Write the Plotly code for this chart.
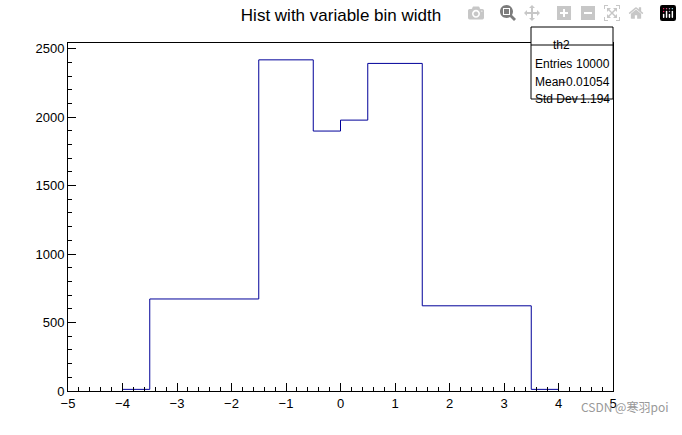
import plotly.graph_objects as go

edges = [-4, -3.5, -1.5, -0.5, 0, 0.5, 1.5, 3.5, 4]
counts = [12, 672, 2418, 1898, 1978, 2392, 622, 12]
stats_labels = ["Entries", "Mean", "Std Dev"]
stats_values = ["10000", "\u22120.01054", "1.194"]

xs, ys = [edges[0]], [0]
for i, c in enumerate(counts):
    xs += [edges[i], edges[i+1]]
    ys += [c, c]
xs.append(edges[-1]); ys.append(0)

fig = go.Figure(go.Scatter(x=xs, y=ys, mode="lines", line=dict(color="#000099", width=1), hoverinfo="skip"))
ax = dict(showgrid=False, zeroline=False, showline=True, mirror=True, linecolor="black", linewidth=1,
          ticks="inside", ticklen=8, tickcolor="black", tickfont=dict(family="Liberation Sans", size=13, color="black"))
fig.update_xaxes(range=[-5, 5], dtick=1, minor=dict(ticks="inside", ticklen=4, dtick=0.2, tickcolor="black"), **ax)
fig.update_yaxes(range=[0, 2541], dtick=500, minor=dict(ticks="inside", ticklen=4, dtick=100, tickcolor="black"), **ax)
fig.update_layout(width=682, height=435, margin=dict(l=68, r=69, t=43, b=44), plot_bgcolor="white", paper_bgcolor="white",
                  showlegend=False,
                  title=dict(text="Hist with variable bin width", x=0.5, xanchor="center", y=0.965, yanchor="middle",
                             font=dict(family="Liberation Sans", size=17, color="black")))
px = lambda p: (p-68)/545
py = lambda p: (391-p)/348
fig.add_shape(type="rect", xref="paper", yref="paper", x0=px(531), x1=1, y0=py(99), y1=py(27),
              line=dict(color="black", width=1), fillcolor="white")
fig.add_shape(type="line", xref="paper", yref="paper", x0=px(531), x1=1, y0=py(45), y1=py(45),
              line=dict(color="black", width=1))
f = dict(family="Liberation Sans", size=12, color="black")
fig.add_annotation(xref="paper", yref="paper", x=px(572), y=py(36), text="th2", showarrow=False, font=f)
for i, (l, v) in enumerate(zip(stats_labels, stats_values)):
    yy = py(55+17.5*i)
    fig.add_annotation(xref="paper", yref="paper", x=px(535), y=yy, text=l, showarrow=False, xanchor="left", font=f, xshift=-2)
    fig.add_annotation(xref="paper", yref="paper", x=px(610), y=yy, text=v, showarrow=False, xanchor="right", font=f, xshift=2)
fig.add_annotation(xref="paper", yref="paper", x=px(670), y=py(417), text="CSDN @寒羽poi", showarrow=False, xanchor="right",
                   font=dict(family="Noto Sans CJK SC", size=12, color="#999999"))
fig.write_html("out.html", post_script="document.body.style.margin='0';")
